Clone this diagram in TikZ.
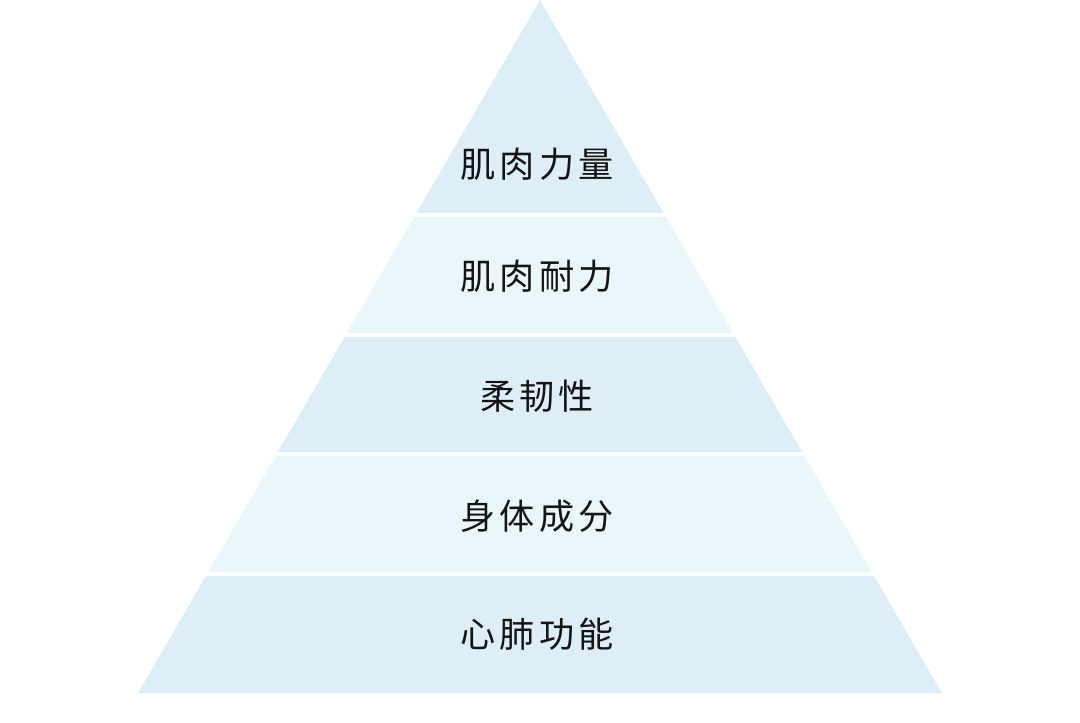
\documentclass[tikz,border=0pt]{standalone}
\usepackage{fontspec}
\newfontfamily\cjk[LetterSpace=12]{Noto Sans CJK SC}
\definecolor{pyDeep}{HTML}{DDEEF8}
\definecolor{pyPale}{HTML}{E9F6FA}
\definecolor{pyInk}{HTML}{141414}
\tikzset{
  lvl/.style={font=\cjk\fontsize{20}{22}\selectfont,
    text=pyInk,anchor=center,inner sep=0pt},
}
\begin{document}
\begin{tikzpicture}[x=0.02cm,y=-0.02cm]
  \useasboundingbox (0,0) rectangle (1080,723);
  % layers: top edge / bottom edge / fill
  \foreach \ya/\yb/\col in {0/213/pyDeep,217/333/pyPale,337/452/pyDeep,
                            456/572/pyPale,576/693/pyDeep}
    \fill[\col] ({540-0.58*\ya},\ya) -- ({540+0.58*\ya},\ya)
      -- ({540+0.58*\yb},\yb) -- ({540-0.58*\yb},\yb) -- cycle;
  \node[lvl] (strength) at (537,164) {肌肉力量};
  \node[lvl] (endurance) at (537,276) {肌肉耐力};
  \node[lvl] (flex) at (537,396) {柔韧性};
  \node[lvl] (body) at (537,516) {身体成分};
  \node[lvl] (cardio) at (537,634) {心肺功能};
\end{tikzpicture}
\end{document}
